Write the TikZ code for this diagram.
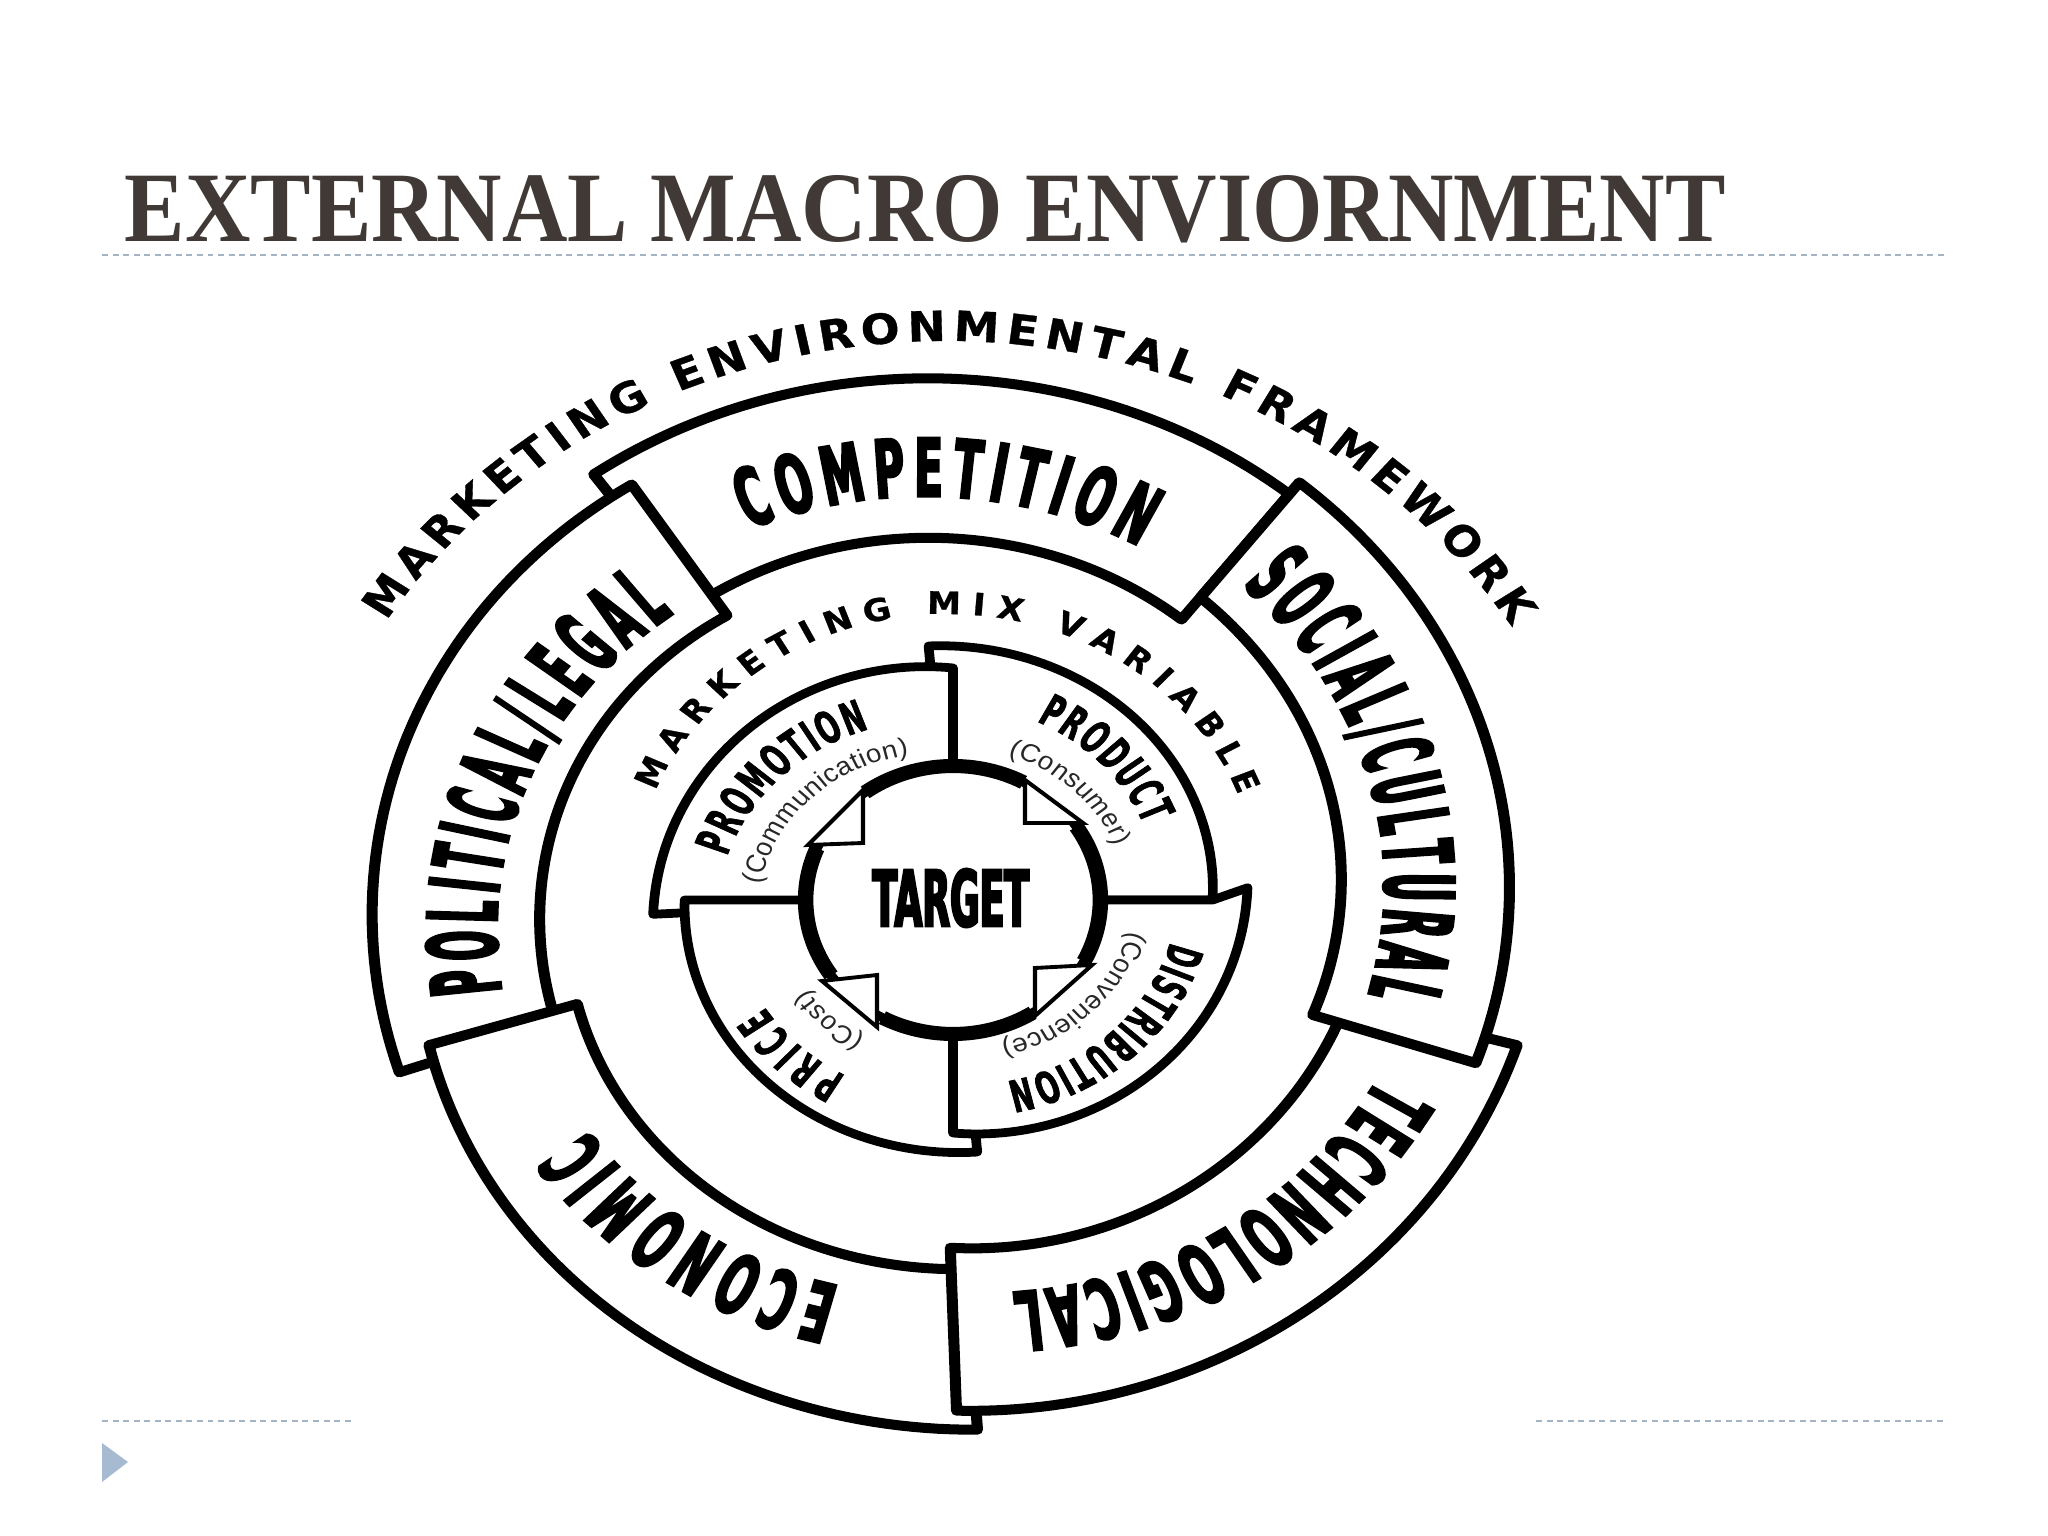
\documentclass[tikz,border=0pt]{standalone}
\usepackage{fontspec}
\setmainfont{Liberation Serif}
\newfontfamily\lsans{Liberation Sans}
\newfontfamily\dvs[FakeBold=0.8]{DejaVu Sans}
\newfontfamily\hvA[FakeStretch=0.47,FakeBold=2.5]{DejaVu Sans}
\newfontfamily\hvB[FakeStretch=0.4,FakeBold=2.5]{DejaVu Sans}
\newfontfamily\hvC[FakeStretch=0.47,FakeBold=2.5]{DejaVu Sans}
\newfontfamily\hvD[FakeStretch=0.56,FakeBold=1.5]{DejaVu Sans}
\newfontfamily\hvT[FakeStretch=0.42,FakeBold=2.5]{DejaVu Sans}
\usetikzlibrary{decorations.text}
\definecolor{titlecol}{RGB}{64,57,53}
\definecolor{rulecol}{RGB}{165,180,196}
\definecolor{markcol}{RGB}{166,187,209}

% annular (spiral) segment: style, start angle, end angle, r_out start, r_out end, r_in start, r_in end
\newcommand{\seg}[7]{%
  \draw[#1] plot[domain=#2:#3, samples=60] (\x:{#4+((#5)-(#4))*(\x-(#2))/((#3)-(#2))})
    -- plot[domain=#3:#2, samples=60] (\x:{#6+((#7)-(#6))*(\x-(#2))/((#3)-(#2))}) -- cycle;}
% text along a (spiral) arc: start angle, end angle, r start, r end, format, text
\newcommand{\arctext}[6]{%
  \path[decorate, decoration={text along path, text={|#5|#6}, text align=fit to path}]
    plot[domain=#1:#2, samples=40] (\x:{#3+((#4)-(#3))*(\x-(#1))/((#2)-(#1))});}

\newcommand{\fBig}{\hvA\bfseries\fontsize{23pt}{23pt}\selectfont}
\newcommand{\fSide}{\hvB\bfseries\fontsize{25pt}{25pt}\selectfont}
\newcommand{\fDiag}{\hvC\bfseries\fontsize{23.4pt}{23.4pt}\selectfont}
\newcommand{\fMix}{\hvD\bfseries\fontsize{12.5pt}{12.5pt}\selectfont}
\newcommand{\fSmall}{\lsans\fontsize{7.2pt}{7.2pt}\selectfont\color[RGB]{40,40,40}}
\newcommand{\fRing}{\dvs\bfseries\fontsize{8.8pt}{8.8pt}\selectfont}
\newcommand{\fOuter}{\dvs\bfseries\fontsize{11.8pt}{11.8pt}\selectfont}

\begin{document}
\begin{tikzpicture}[x=0.01cm,y=0.01cm,
  band/.style={draw=black, fill=white, line width=2.85pt, line join=round},
  mixseg/.style={draw=black, fill=white, line width=2.5pt, line join=round},
  ringst/.style={draw=black, line width=4pt, line cap=butt},
  tri/.style={draw=black, fill=white, line width=1.1pt, line join=miter},
  rule/.style={draw=rulecol, line width=0.8pt, dash pattern=on 1.7pt off 1.3pt}]
\useasboundingbox (0,0) rectangle (2048,1536);
\fill[white] (0,0) rectangle (2048,1536);

% title and slide decorations
\node[anchor=base west, inner sep=0pt, text=titlecol] (title) at (124,1294)
  {\resizebox{16cm}{0.66cm}{\bfseries EXTERNAL MACRO ENVIORNMENT}};
\coordinate (r1a) at (102,1281); \coordinate (r1b) at (1946,1281);
\draw[rule] (r1a) -- (r1b);
\coordinate (r2a) at (102,115); \coordinate (r2b) at (355,115);
\draw[rule] (r2a) -- (r2b);
\coordinate (r3a) at (1536,115); \coordinate (r3b) at (1946,115);
\draw[rule] (r3a) -- (r3b);
\fill[markcol] (102,93) -- (102,54) -- (128,74) -- cycle;

\begin{scope}[transform canvas={shift={(953,636)},xscale=1.1}]
  % ---------- outer environment band ----------
  \begin{scope}[shift={(-14.5,-4)}]
    \seg{band}{126}{52}{531}{520}{371}{361}
    \seg{band}{-161}{-236.5}{517}{503}{366}{346}
    \seg{band}{-86}{-163}{527}{483}{366}{342}
    \seg{band}{-15}{-88}{546}{507}{385}{344}
    \seg{band}{52}{-18}{535}{515}{389}{359}
    \arctext{114.5}{62.8}{412}{402}{\fBig}{COMPETITION}
    \arctext{49}{-13}{422}{402}{\fSide}{SOCIAL/CULTURAL}
    \arctext{-23.5}{-80}{437}{394}{\fDiag}{TECHNOLOGICAL}
    \arctext{-103}{-144.5}{392}{390}{\fDiag}{ECONOMIC}
    \arctext{-167.5}{-230.5}{405}{376}{\fSide}{POLITICAL/LEGAL}
    \path[decorate, decoration={text along path,
        text={|\fOuter|MARKETING ENVIRONMENTAL FRAMEWORK}, text align=fit to path}]
      plot[domain=150.5:28, samples=80] (\x:{563+38.6*(1-sin(\x))+7.57*(90-\x)/60});
  \end{scope}

  % ---------- marketing mix ring ----------
  \seg{mixseg}{95}{0}{255}{236}{134}{134}
  \seg{mixseg}{183}{90}{273}{232}{134}{134}
  \seg{mixseg}{-85}{-180}{253}{244}{134}{134}
  \draw[mixseg] (0:134) -- (0:236) -- plot[domain=2.6:-90, samples=60] (\x:{268+(233-268)*(\x-2.6)/(-92.6)})
     -- plot[domain=-90:0, samples=30] (\x:134) -- cycle;

  % target ring (broken at the arrow heads)
  \draw[ringst] (61.4:134) arc[start angle=61.4, end angle=126.6, radius=134];
  \draw[ringst] (157.4:134) arc[start angle=157.4, end angle=214.2, radius=134];
  \draw[ringst] (241.4:134) arc[start angle=241.4, end angle=302.7, radius=134];
  \draw[ringst] (332.8:134) arc[start angle=332.8, end angle=393.1, radius=134];

  % arrow heads
  \fill[white] (-81.8,110) -- (-81.8,57) -- (-131.8,55) -- (157.4:142) arc[start angle=157.4, end angle=126.6, radius=142] -- cycle;
  \draw[tri] (-81.8,110) -- (-81.8,57) -- (-131.8,55) -- cycle;
  \fill[white] (65.5,120) -- (65.5,77) -- (118.2,77) -- (33.1:142) arc[start angle=33.1, end angle=61.4, radius=142] -- cycle;
  \draw[tri] (65.5,120) -- (65.5,77) -- (118.2,77) -- cycle;
  \fill[white] (-119.1,-81) -- (-69.1,-75) -- (-69.1,-127) -- (241.4:142) arc[start angle=241.4, end angle=214.2, radius=142] -- cycle;
  \draw[tri] (-119.1,-81) -- (-69.1,-75) -- (-69.1,-127) -- cycle;
  \fill[white] (126.4,-65) -- (74.5,-68) -- (74.5,-116) -- (-57.3:142) arc[start angle=-57.3, end angle=-27.2, radius=142] -- cycle;
  \draw[tri] (126.4,-65) -- (74.5,-68) -- (74.5,-116) -- cycle;

  % labels of the mix
  \arctext{158}{22}{292}{280}{\fRing}{MARKETING MIX VARIABLE}
  \arctext{168}{114}{210}{187}{\fMix}{PROMOTION}
  \arctext{175}{105.5}{176}{150}{\fSmall}{(Communication)}
  \arctext{67}{23.5}{194}{189}{\fMix}{PRODUCT}
  \arctext{71}{20}{153}{157}{\fSmall}{(Consumer)}
  \arctext{-12}{-75}{202}{188}{\fMix}{DISTRIBUTION}
  \arctext{-11}{-73}{163}{149}{\fSmall}{(Convenience)}
  \arctext{-119}{-148}{201}{202}{\fMix}{PRICE}
  \arctext{-120}{-146}{160}{160}{\fSmall}{(Cost)}

  \node[inner sep=0pt, font=\hvT\bfseries\fontsize{22.2pt}{22.2pt}\selectfont] (target) at (-2,2) {TARGET};
\end{scope}
\end{tikzpicture}
\end{document}
